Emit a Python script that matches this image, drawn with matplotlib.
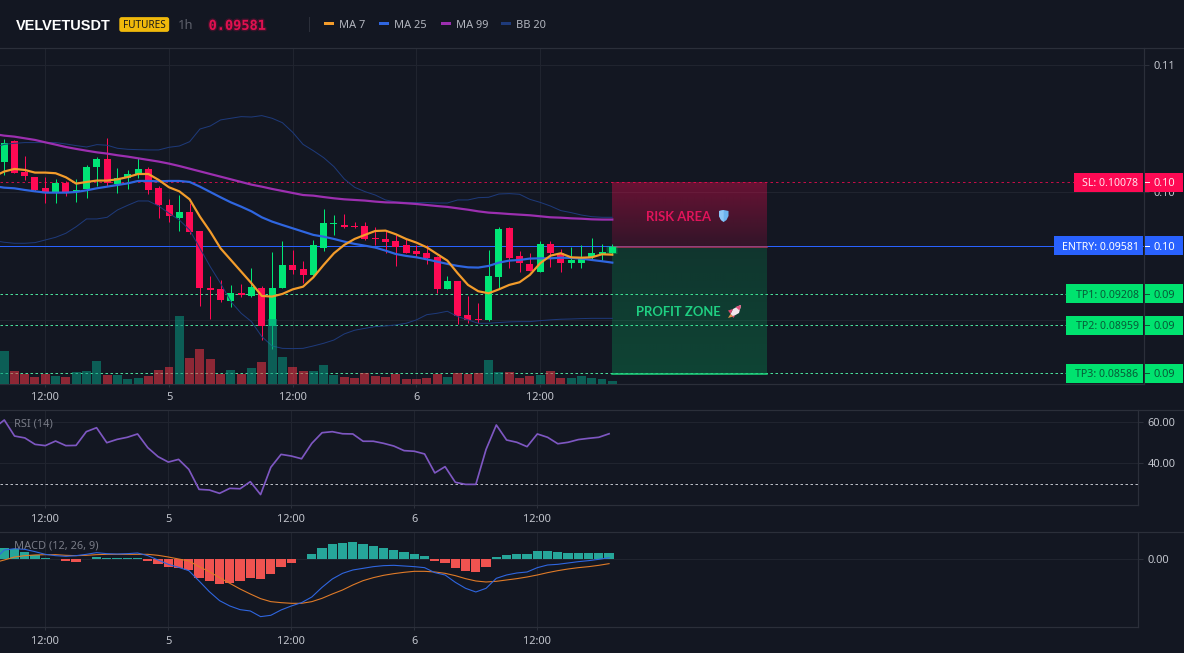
import numpy as np
import matplotlib
matplotlib.use("Agg")
import matplotlib.pyplot as plt
from matplotlib.patches import Rectangle, FancyBboxPatch, Polygon
from matplotlib.lines import Line2D
import matplotlib.patheffects as pe

# ---------- data (prices in units of 0.00001) ----------
opens = [10250,10413,10171,10128,10042,10013,10084,10010,10031,10207,10271,10074,10118,10150,10192,10042,9908,9807,9850,9702,
         9249,9244,9152,9213,9189,9249,8955,9255,9434,9402,9355,9571,9758,9750,9744,9742,9647,9639,9623,9589,
         9544,9529,9494,9244,9308,9039,9008,9000,9342,9726,9502,9442,9381,9600,9526,9452,9452,9494,9515,9526]
closes = [10394,10163,10136,10026,10010,10079,10013,10026,10207,10271,10079,10118,10150,10189,10026,9908,9821,9850,9697,9255,
          9236,9157,9210,9194,9257,8955,9249,9434,9394,9355,9592,9763,9763,9731,9737,9639,9642,9615,9579,9531,
          9523,9489,9244,9308,9034,9000,9000,9347,9718,9489,9452,9387,9600,9529,9452,9473,9487,9526,9537,9579]
highs = [10426,10421,10294,10131,10126,10110,10097,10110,10223,10289,10434,10197,10184,10281,10210,10057,9952,9986,9921,9702,
         9347,9315,9276,9283,9407,9268,9534,9620,9552,9465,9631,9873,9829,9834,9776,9771,9737,9710,9671,9637,
         9592,9592,9505,9347,9308,9189,9131,9552,9731,9731,9544,9526,9623,9623,9558,9579,9592,9644,9600,9600]
lows = [10144,10158,10105,10021,9926,9926,9978,9934,9963,10057,10057,10005,10034,10118,9994,9805,9776,9702,9678,9110,
        9007,9144,9105,9179,9184,8841,8771,9249,9362,9289,9347,9547,9671,9723,9723,9631,9592,9526,9426,9526,
        9500,9442,9210,9244,8968,8979,8979,8994,9250,9413,9381,9387,9381,9421,9381,9413,9413,9473,9473,9515]
volumes = [97,37,28,19,28,22,19,34,37,67,25,25,13,16,22,40,49,202,76,103,73,28,40,28,46,64,193,79,49,37,
           37,55,25,19,16,31,22,19,28,13,13,16,28,19,31,28,31,70,34,34,16,22,25,37,16,16,22,16,13,7]

# line series start one hour before the first visible candle
ma7 = [10131,10171,10192,10184,10163,10163,10158,10126,10076,10089,10100,10100,10110,10128,10152,10152,10105,10047,10015,9952,9815,
       9697,9565,9473,9381,9289,9189,9184,9205,9241,9262,9336,9434,9526,9592,9639,9671,9702,9705,9676,9639,
       9610,9573,9520,9468,9368,9276,9226,9210,9241,9276,9297,9355,9447,9507,9526,9494,9491,9494,9518,9515]
ma25 = [10057,10044,10039,10026,10015,10005,10005,10005,10010,10023,10039,10052,10065,10078,10097,10097,10094,10097,10097,10089,10052,
        10010,9968,9928,9894,9857,9810,9776,9749,9723,9697,9671,9657,9639,9618,9600,9586,9571,9547,9520,9505,
        9494,9478,9460,9442,9426,9415,9413,9426,9452,9468,9473,9484,9486,9486,9491,9489,9484,9473,9463,9452]
ma99 = [10468,10455,10447,10434,10421,10402,10384,10365,10350,10336,10323,10313,10300,10289,10276,10263,10250,10234,10215,10194,10173,
        10152,10131,10110,10089,10068,10052,10034,10018,10002,9986,9981,9970,9960,9952,9947,9942,9934,9928,9926,9921,
        9915,9907,9899,9892,9881,9870,9857,9847,9842,9836,9831,9826,9818,9810,9807,9802,9799,9794,9792,9792]
bb_upper = [10360,10386,10394,10400,10400,10400,10400,10389,10376,10365,10384,10379,10355,10347,10344,10342,10342,10363,10373,10407,10507,
            10531,10579,10592,10605,10602,10613,10592,10557,10481,10386,10336,10281,10210,10113,10047,10013,9986,9947,9931,9928,
            9926,9926,9923,9923,9947,9947,9965,9968,9994,9997,9992,9952,9928,9899,9863,9847,9828,9815,9810,9810]
bb_lower = [9626,9613,9605,9605,9610,9631,9652,9684,9736,9797,9797,9810,9868,9905,9939,9939,9899,9842,9789,9710,9565,
            9420,9289,9144,9052,8986,8868,8794,8775,8773,8775,8794,8815,8841,8889,8918,8933,8947,8952,8960,8973,
            9000,9041,9052,9068,9026,9000,8973,8973,8979,8984,8986,8986,8994,9000,9005,9007,9010,9012,9012,9012]

rsi = [56.9,60.8,53.1,52.2,49.1,48.5,50.7,48.5,48.6,55.2,57.1,49.9,51.5,52.5,54.1,47.5,43.2,40.6,41.9,37.1,27.5,
       27.2,25.6,28.0,27.8,31.2,25.0,38.1,44.3,43.5,42.2,49.6,54.7,55.2,54.2,54.1,50.6,50.6,49.6,48.3,46.1,
       45.8,44.5,35.4,38.4,30.9,29.9,29.9,46.7,58.4,51.2,50.1,48.0,54.1,52.5,49.4,50.1,51.4,52.0,52.5,54.2]

# MACD in units of 0.00001
macd_line = [-2,28,32,30,23,15,11,9,11,15,20,17,16,17,19,11,-2,-15,-24,-34,-65,
             -97,-124,-140,-151,-155,-172,-168,-152,-140,-130,-113,-84,-59,-42,-32,-27,-22,-19,-18,-20,
             -22,-25,-40,-47,-69,-87,-98,-87,-57,-47,-41,-38,-25,-17,-15,-11,-7,-4,0,5]
macd_signal = [-10,-2,7,11,13,14,14,12,11,12,14,15,15,15,15,15,12,7,1,-5,-22,
               -37,-55,-72,-89,-104,-118,-127,-130,-132,-132,-127,-117,-104,-92,-77,-64,-55,-48,-43,-39,
               -36,-36,-38,-42,-49,-58,-65,-68,-66,-62,-58,-53,-47,-40,-34,-29,-25,-22,-18,-13]
macd_hist = [34,30,23,13,5,1,-6,-9,1,7,5,5,5,5,-6,-14,-24,-25,-32,-57,
             -65,-74,-71,-65,-56,-59,-44,-23,-11,1,16,34,46,49,52,46,40,34,28,22,
             16,10,-5,-11,-26,-35,-38,-23,7,13,16,16,25,25,22,19,19,19,19,19]

tick_hours = [4, 16, 28, 40, 52]
tick_labels = ["12:00", "5", "12:00", "6", "12:00"]

price_ticks = [0.09, 0.10, 0.11]
price_tick_labels = ["", "0.10", "0.11"]  # the 0.09 label sits fully behind the TP2 tag
rsi_ticks = [40, 60]
rsi_level = 30

entry = 0.09581
stop = 0.10078
targets = [0.09208, 0.08959, 0.08586]
level_round = ["0.10", "0.10", "0.09", "0.09", "0.09"]

legend_names = ["MA 7", "MA 25", "MA 99", "BB 20"]

# ---------- styling ----------
W, H = 1184, 653
BG = "#131722"
GRID = "#20242f"
AXIS = "#2b2f3a"
TICK = "#c3c6ce"
GREEN = "#00E676"
RED = "#FF0A54"
BLUE = "#2962FF"
C_MA7, C_MA25, C_MA99, C_BB = "#F39C2B", "#2F66E0", "#9C2FB0", "#1E3A7A"
FONT = "Noto Sans"
plt.rcParams["font.family"] = [FONT, "DejaVu Sans"]

def px(s):
    return s * 72 / 100

def prices(a):
    return (9577.5 + (np.array(a, dtype=float) - 9581) * 0.99085) / 1e5

fig = plt.figure(figsize=(W / 100, H / 100), dpi=100, facecolor=BG)

def fx(x): return x / W
def fy(y): return 1 - y / H

def make_axes(left, top, right, bottom):
    ax = fig.add_axes([fx(left), fy(bottom), (right - left) / W, (bottom - top) / H], facecolor=BG)
    for s in ("top", "left"):
        ax.spines[s].set_visible(False)
    for s in ("right", "bottom"):
        ax.spines[s].set_color(AXIS)
        ax.spines[s].set_linewidth(px(1.2))
    ax.yaxis.tick_right()
    ax.tick_params(axis="y", length=px(5), width=px(1), color=AXIS, labelcolor=TICK, labelsize=px(11), pad=px(4))
    ax.tick_params(axis="x", length=px(3), width=px(1), color=AXIS, labelcolor=TICK, labelsize=px(11), pad=px(6))
    ax.grid(True, color=GRID, lw=px(1))
    ax.set_axisbelow(True)
    ax.set_xticks(tick_hours)
    ax.set_xticklabels(tick_labels)
    return ax

main_xlim = (-0.393, 110.6)
main_ylim = (0.085039, 0.111268)
sub_xlim = (-0.42, 110.63)

# ---------- main pane ----------
ax = make_axes(0, 48.3, 1144.3, 383.5)
ax.set_xlim(*main_xlim)
ax.set_ylim(*main_ylim)
ax.set_yticks(price_ticks)
ax.set_yticklabels(price_tick_labels)

x = np.arange(len(opens))
xl = np.arange(-1, len(opens))
o, c, h, l = [prices(a) for a in (opens, closes, highs, lows)]
up = c >= o
cols = np.where(up, GREEN, RED)

# level lines
ax.axhline(stop, color=RED, lw=px(1), ls=(0, (2.5, 3)), alpha=0.75, zorder=2)
ax.axhline(entry, color=BLUE, lw=px(1), zorder=2)
for t in targets:
    ax.axhline(t, color="#4ADE9A", lw=px(1), ls=(0, (2.5, 2.5)), zorder=2)

# zones
zone_x = (59, 74)
def gradient(rgb, a_top, a_bot):
    g = np.zeros((64, 1, 4))
    g[..., :3] = matplotlib.colors.to_rgb(rgb)
    g[:, 0, 3] = np.linspace(a_top, a_bot, 64)
    return g
ax.imshow(gradient(RED, 0.36, 0.14), extent=(*zone_x, entry, stop), aspect="auto", zorder=3, interpolation="bilinear")
ax.imshow(gradient(GREEN, 0.15, 0.22), extent=(*zone_x, targets[2] - 0.00006, entry), aspect="auto", zorder=3, interpolation="bilinear")
ax.plot(zone_x, [entry - 0.00006] * 2, color="#B5325A", lw=px(1.5), zorder=3.2)
ax.plot(zone_x, [targets[2] - 0.00006] * 2, color="#1FD67F", lw=px(1.5), zorder=3.2)
ax.set_xlim(*main_xlim)
ax.set_ylim(*main_ylim)

# candles
ax.vlines(x, l, h, colors=cols, lw=px(1), zorder=4)
ax.bar(x, np.abs(c - o), bottom=np.minimum(o, c), width=0.68, color=cols, zorder=4.1, linewidth=0)
for w, a in ((1.15, 0.12), (0.95, 0.2)):
    ax.bar(x[-1], abs(c[-1] - o[-1]) + 0.00008, bottom=min(o[-1], c[-1]) - 0.00004, width=w, color=GREEN, alpha=a, zorder=4, linewidth=0)

# overlays
ax.plot(xl, prices(bb_upper), color=C_BB, lw=px(1), zorder=4.5)
ax.plot(xl, prices(bb_lower), color=C_BB, lw=px(1), zorder=4.5)
ax.plot(xl, prices(ma99), color=C_MA99, lw=px(2.2), zorder=4.6)
ax.plot(xl, prices(ma25), color=C_MA25, lw=px(2.2), zorder=4.7)
ax.plot(xl, prices(ma7), color=C_MA7, lw=px(2.2), zorder=4.8)

# volume
vax = ax.twinx()
ax.yaxis.tick_right()
vax.set_zorder(ax.get_zorder() + 1)
vax.patch.set_visible(False)
vax.set_ylim(0, 1006.5)
vax.set_xlim(*main_xlim)
vax.axis("off")
vax.bar(x, volumes, width=0.87, color=np.where(up, "#089981", "#F23645"), alpha=0.55, linewidth=0)

# ---------- RSI pane ----------
ax2 = make_axes(0, 410, 1138.3, 505)
ax2.set_xlim(*sub_xlim)
ax2.set_ylim(20, 65.6)
ax2.set_yticks(rsi_ticks)
ax2.set_yticklabels([f"{v:.2f}" for v in rsi_ticks])
ax2.axhline(rsi_level, color="#B8BBC4", lw=px(1), ls=(0, (2.5, 2.5)), zorder=2)
ax2.plot(xl, rsi, color="#7E57C2", lw=px(1.7), zorder=3)
ax2.text(14 / 1138.3, (505 - 424) / 95, "RSI (14)", transform=ax2.transAxes, color="#787B86",
         fontsize=px(11), va="center", ha="left", zorder=5)

# ---------- MACD pane ----------
ax3 = make_axes(0, 532, 1138.3, 627.3)
ax3.set_xlim(*sub_xlim)
ax3.set_ylim(-204e-5, 82e-5)
ax3.set_yticks([0])
ax3.set_yticklabels(["0.00"])
hist = np.array(macd_hist) / 1e5
ax3.bar(x, hist, width=0.9, color=np.where(hist >= 0, "#26A69A", "#EF5350"), linewidth=0, zorder=3)
ax3.plot(xl, np.array(macd_signal) / 1e5, color="#E07B28", lw=px(1.1), zorder=4)
ax3.plot(xl, np.array(macd_line) / 1e5, color="#2F66E0", lw=px(1.1), zorder=4.1)
ax3.text(14 / 1138.3, (627.3 - 546) / 95.3, "MACD (12, 26, 9)", transform=ax3.transAxes, color="#787B86",
         fontsize=px(11), va="center", ha="left", zorder=5)

# ---------- full-width separators ----------
for yy in (48.3, 410, 532):
    fig.add_artist(Line2D([0, 1], [fy(yy), fy(yy)], color=AXIS, lw=px(1.2), zorder=1))

# ---------- price tags ----------
def price_to_y(p):
    return H - ax.transData.transform((0, p))[1]

tags = [
    (f"SL: {stop:.5f}", stop, 1074, RED, "#FFE3EC"),
    (f"ENTRY: {entry:.5f}", entry, 1054, BLUE, "#FFFFFF"),
    (f"TP1: {targets[0]:.5f}", targets[0], 1066, "#00E36F", "#075B38"),
    (f"TP2: {targets[1]:.5f}", targets[1], 1066, "#00E36F", "#075B38"),
    (f"TP3: {targets[2]:.5f}", targets[2], 1066, "#00E36F", "#075B38"),
]
for (txt, p, left, fc, tc), rnd in zip(tags, level_round):
    yc = price_to_y(p)
    for x0, x1 in ((left, 1143.3), (1144.6, 1183)):
        fig.add_artist(Rectangle((fx(x0), fy(yc + 9.5)), (x1 - x0) / W, 19 / H, transform=fig.transFigure,
                                 facecolor=fc, edgecolor="none", zorder=6))
    fig.text(fx(1138.5), fy(yc), txt, color=tc, fontsize=px(10.6), ha="right", va="center_baseline", zorder=7)
    fig.add_artist(Line2D([fx(1144.5), fx(1148.5)], [fy(yc), fy(yc)], color=tc, lw=px(1), zorder=7))
    fig.text(fx(1153), fy(yc), rnd, color=tc, fontsize=px(11), ha="left", va="center_baseline", zorder=7)

# ---------- zone captions ----------
fig.text(fx(646), fy(215.7), "RISK AREA", color="#E0145A", fontsize=px(13), family="Lato", fontweight="bold",
         ha="left", va="center_baseline", zorder=7)
fig.text(fx(636), fy(310.7), "PROFIT ZONE", color="#1FCF82", fontsize=px(13), family="Lato", fontweight="bold",
         ha="left", va="center_baseline", zorder=7)

def poly(pts, color):
    fig.add_artist(Polygon([(fx(a), fy(b)) for a, b in pts], closed=True, transform=fig.transFigure,
                           facecolor=color, edgecolor="none", zorder=7))
# shield
poly([(719, 211), (723.7, 210), (728.5, 211), (728.5, 216), (726.5, 220), (723.7, 222), (721, 220), (719, 216)], "#6DB3EE")
poly([(719, 211), (723.7, 210), (723.7, 222), (721, 220), (719, 216)], "#8CC6F5")
# rocket
poly([(740.5, 305), (741, 306), (739, 313), (733, 316.5), (730.5, 314), (733, 309)], "#F2E6EC")
poly([(740.5, 305), (741, 306), (739.5, 310.5), (735.5, 307)], "#E0557F")
poly([(733, 309), (728, 310.5), (730.5, 314)], "#D9466F")
poly([(735, 315.5), (733.5, 318), (732, 316)], "#D9466F")
poly([(730.5, 314), (733, 316.5), (728, 318)], "#E8924A")

# ---------- header ----------
fig.text(fx(16), fy(24.3), "VELVETUSDT", color="#FFFFFF", fontsize=px(14.5), family="Liberation Sans", fontweight="bold",
         ha="left", va="center_baseline", zorder=7)
fig.add_artist(FancyBboxPatch((fx(120.5), fy(30.7)), 47.5 / W, 12.4 / H, boxstyle="round,pad=0.001,rounding_size=0.002",
                              transform=fig.transFigure, facecolor="#F0B90B", edgecolor="none", zorder=6, mutation_aspect=W / H))
fig.text(fx(144.2), fy(24.5), "FUTURES", color="#1A1A1A", fontsize=px(10), ha="center", va="center_baseline", zorder=7)
fig.text(fx(178), fy(24.3), "1h", color="#5D606B", fontsize=px(13), ha="left", va="center_baseline", zorder=7)
tp = fig.text(fx(208.6), fy(24.3), f"{entry:.5f}", color="#E01050", fontsize=px(13.6), family="DejaVu Sans Mono",
              fontweight="bold", ha="left", va="center_baseline", zorder=7)
tp.set_path_effects([pe.withStroke(linewidth=2, foreground="#5A1030", alpha=0.6)])
fig.add_artist(Line2D([fx(308.5)] * 2, [fy(17), fy(31)], color=AXIS, lw=px(1), zorder=6))

legend_cols = [C_MA7, C_MA25, C_MA99, C_BB]
legend_x = [324, 379, 440.5, 501]
for name, col, xs in zip(legend_names, legend_cols, legend_x):
    fig.add_artist(Rectangle((fx(xs), fy(25)), 10 / W, 3 / H, transform=fig.transFigure, facecolor=col, edgecolor="none", zorder=6))
    fig.text(fx(xs + 15), fy(24), name, color="#B2B5BE", fontsize=px(11), ha="left", va="center_baseline", zorder=7)

fig.savefig("out.png", dpi=100, facecolor=BG)
